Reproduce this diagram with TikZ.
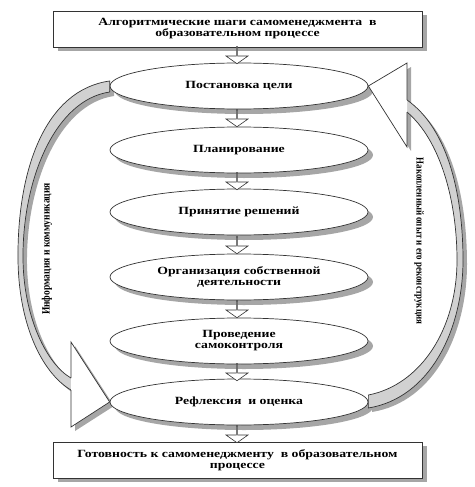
\documentclass[tikz,border=0pt]{standalone}
\usepackage{fontspec}
\setmainfont{Liberation Serif}[FakeStretch=1.25]
\newfontfamily\sidefont{Liberation Serif}[FakeStretch=0.85]
\usetikzlibrary{shapes.geometric,shapes.arrows}

\tikzset{
  shadowfill/.style={fill=black!35},
  stepellipse/.style={ellipse, draw=black!80, line width=0.7pt, fill=white,
    minimum width=258pt, minimum height=46pt, inner sep=0pt, align=center,
    font=\bfseries\fontsize{11}{11}\selectfont},
  titlebox/.style={rectangle, draw=black!80, line width=0.7pt, fill=white,
    minimum width=369pt, minimum height=36pt, inner sep=0pt, align=center,
    font=\bfseries\fontsize{11}{11}\selectfont},
  downarrow/.style={single arrow, draw=black!80, line width=0.6pt, fill=white, rotate=-90,
    minimum height=17pt, minimum width=22pt, inner sep=0pt,
    single arrow head extend=5pt, single arrow tip angle=110},
  bandpart/.style={draw=black!80, line width=0.7pt, fill=black!18},
  headpart/.style={draw=black!80, line width=0.7pt, fill=white},
  sidelabel/.style={inner sep=0pt}
}

\begin{document}
\begin{tikzpicture}[x=1pt,y=1pt]
  \useasboundingbox (0,0) rectangle (474,-487);

  % shadows first
  \fill[shadowfill] (57.5,-15) rectangle (426.5,-51);
  \fill[shadowfill] (57.5,-446) rectangle (426.5,-482);
  \foreach \y in {86,150,212,277,341,402}
    \fill[shadowfill] (244,-\y-5) ellipse [x radius=129, y radius=23];
  \begin{scope}[shift={(4,-4)}]
    \fill[shadowfill] (71,-390) .. controls (45,-375) and (19,-330) .. (18,-260)
      .. controls (17,-170) and (45,-90) .. (110,-81) -- (110,-92)
      .. controls (55,-100) and (22,-180) .. (23,-260)
      .. controls (24,-320) and (48,-365) .. (71,-378) -- (71,-342) -- (110,-402) -- (71,-427) -- cycle;
    \fill[shadowfill] (407,-100) .. controls (450,-130) and (463,-200) .. (463,-260)
      .. controls (463,-330) and (430,-398) .. (368,-408) -- (368,-395)
      .. controls (420,-385) and (457,-330) .. (457,-260)
      .. controls (457,-200) and (440,-140) .. (407,-112) -- (407,-147) -- (368,-86) -- (407,-63) -- cycle;
  \end{scope}

  % boxes and steps
  \node[titlebox] (top) at (237.5,-29) {Алгоритмические шаги самоменеджмента\ \ в\\образовательном процессе};
  \node[stepellipse] (e1) at (239,-86) {Постановка цели};
  \node[stepellipse] (e2) at (239,-150) {Планирование};
  \node[stepellipse] (e3) at (239,-212) {Принятие решений};
  \node[stepellipse] (e4) at (239,-277) {Организация собственной\\деятельности};
  \node[stepellipse] (e5) at (239,-341) {Проведение\\самоконтроля};
  \node[stepellipse] (e6) at (239,-402) {Рефлексия\ \ и оценка};
  \node[titlebox] (bottom) at (237.5,-460) {Готовность к самоменеджменту\ \ в образовательном\\процессе};

  % small arrows between the steps
  \node[downarrow] (a1) at (237,-55) {};
  \node[downarrow] (a2) at (237,-118) {};
  \node[downarrow] (a3) at (237,-181) {};
  \node[downarrow] (a4) at (237,-245) {};
  \node[downarrow] (a5) at (237,-309) {};
  \node[downarrow] (a6) at (237,-372) {};
  \node[downarrow] (a7) at (237,-434) {};

  % curved arrows round the cycle
  \filldraw[bandpart] (71,-390) .. controls (45,-375) and (19,-330) .. (18,-260)
    .. controls (17,-170) and (45,-90) .. ([yshift=5pt]e1.west)
    -- ([yshift=-6pt]e1.west) .. controls (55,-100) and (22,-180) .. (23,-260)
    .. controls (24,-320) and (48,-365) .. (71,-378);
  \filldraw[headpart] (71,-378) -- (71,-342) -- (e6.west) -- (71,-427) -- (71,-390);

  \filldraw[bandpart] (407,-100) .. controls (450,-130) and (463,-200) .. (463,-260)
    .. controls (463,-330) and (430,-398) .. ([yshift=-6pt]e6.east)
    -- ([yshift=7pt]e6.east) .. controls (420,-385) and (457,-330) .. (457,-260)
    .. controls (457,-200) and (440,-140) .. (407,-112);
  \filldraw[headpart] (407,-112) -- (407,-147) -- (e1.east) -- (407,-63) -- (407,-100);

  \node[sidelabel, rotate=90, font=\sidefont\bfseries\fontsize{11.2}{11.2}\selectfont] (info) at (47,-249) {Информация и коммуникация};
  \node[sidelabel, rotate=-90, font=\sidefont\bfseries\fontsize{10.5}{10.5}\selectfont] (exp) at (419,-241) {Накопленный опыт и его реконструкция};
\end{tikzpicture}
\end{document}
